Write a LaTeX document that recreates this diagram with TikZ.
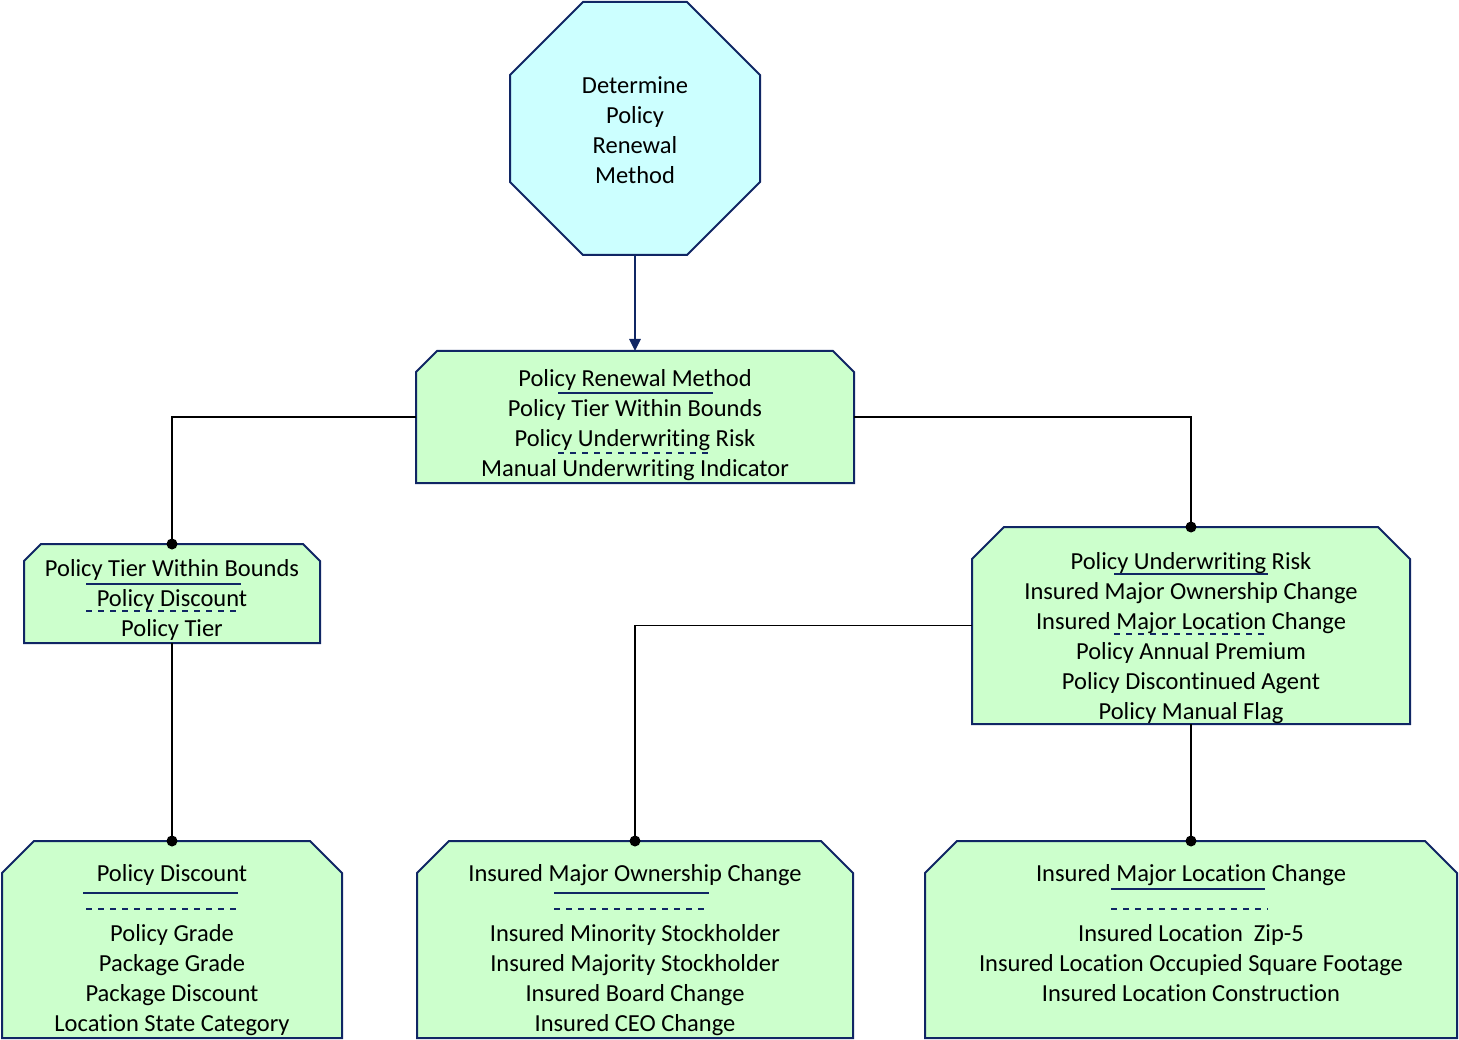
\documentclass[tikz,border=0pt]{standalone}
\usepackage{fontspec}
\setmainfont{Carlito}[Ligatures=NoCommon]
\usetikzlibrary{arrows.meta,calc}
\definecolor{navy}{RGB}{16,38,100}
\definecolor{boxgreen}{RGB}{204,255,204}
\definecolor{octcyan}{RGB}{204,255,255}
\newcommand\chbox[2]{%
  \path[shapeline, fill=boxgreen] ($(#1.north west)+(#2,0)$) -- ($(#1.north east)+(-#2,0)$) -- ($(#1.north east)+(0,#2)$) -- (#1.south east) -- (#1.south west) -- ($(#1.north west)+(0,#2)$) -- cycle;}
\begin{document}
\begin{tikzpicture}[x=1pt,y=-1pt,
  frame/.style={inner sep=0pt, outer sep=0pt},
  shapeline/.style={draw=navy, line width=2pt, line join=miter},
  txt/.style={align=center, font=\fontsize{24.5}{30}\selectfont, inner sep=0pt, text=black},
  link/.style={black, line width=1.5pt},
  dot/.style={fill=black},
  uline/.style={navy, line width=1.6pt},
  dline/.style={navy, line width=1.6pt, dash pattern=on 6pt off 6pt}]
\useasboundingbox (0,0) rectangle (1459,1040);
% frames
\node[frame, minimum width=250pt, minimum height=253pt] (oct) at (635,128.5) {};
\node[frame, minimum width=438pt, minimum height=132pt] (b1) at (635,417) {};
\node[frame, minimum width=296pt, minimum height=99pt] (b2) at (172,593.5) {};
\node[frame, minimum width=340pt, minimum height=197pt] (b3) at (172,939.5) {};
\node[frame, minimum width=436pt, minimum height=197pt] (b4) at (635,939.5) {};
\node[frame, minimum width=532pt, minimum height=197pt] (b5) at (1191,939.5) {};
\node[frame, minimum width=438pt, minimum height=197pt] (b6) at (1191,625.5) {};
% shapes
\path[shapeline, fill=octcyan] ($(oct.north west)+(73,0)$) -- ($(oct.north east)+(-73,0)$) -- ($(oct.north east)+(0,73)$) -- ($(oct.south east)+(0,-73)$) -- ($(oct.south east)+(-73,0)$) -- ($(oct.south west)+(73,0)$) -- ($(oct.south west)+(0,-73)$) -- ($(oct.north west)+(0,73)$) -- cycle;
\chbox{b1}{21}
\chbox{b2}{17}
\chbox{b3}{32}
\chbox{b4}{32}
\chbox{b5}{32}
\chbox{b6}{32}
% connectors
\draw[navy, line width=2.6pt, -{Triangle[length=12pt,width=11pt]}] (oct.south) -- (b1.north);
\draw[link] (b1.west) -| (b2.north);
\draw[link] (b1.east) -| (b6.north);
\draw[link] (b2.south) -- (b3.north);
\draw[link] (b6.west) -| (b4.north);
\draw[link] (b6.south) -- (b5.north);
\fill[dot] (b2.north) circle[radius=5.5];
\fill[dot] (b6.north) circle[radius=5.5];
\fill[dot] (b3.north) circle[radius=5.5];
\fill[dot] (b4.north) circle[radius=5.5];
\fill[dot] (b5.north) circle[radius=5.5];
% underlines
\draw[uline] (558,393) -- (713,393);
\draw[dline] (558,453) -- (713,453);
\draw[uline] (86,584) -- (241,584);
\draw[dline] (86,611) -- (241,611);
\draw[uline] (83,893) -- (238,893);
\draw[dline] (86,909) -- (240,909);
\draw[uline] (554,893) -- (709,893);
\draw[dline] (554,909) -- (709,909);
\draw[uline] (1111,889) -- (1265,889);
\draw[dline] (1111,909) -- (1268,909);
\draw[uline] (1114,574) -- (1268,574);
\draw[dline] (1114,634) -- (1268,634);
% texts
\node[txt] (toct) at (635,130) {Determine\\Policy\\Renewal\\Method};
\node[txt] (tb1) at (635,425) {Policy Renewal Method\\Policy Tier Within Bounds\\Policy Underwriting Risk\\Manual Underwriting Indicator};
\node[txt] (tb2) at (172,600) {Policy Tier Within Bounds\\Policy Discount\\Policy Tier};
\node[txt] (tb3) at (172,950) {Policy Discount\\[30pt]Policy Grade\\Package Grade\\Package Discount\\Location State Category};
\node[txt] (tb4) at (635,950) {Insured Major Ownership Change\\[30pt]Insured Minority Stockholder\\Insured Majority Stockholder\\Insured Board Change\\Insured CEO Change};
\node[txt] (tb5) at (1191,933) {Insured Major Location Change\\[30pt]Insured Location\ \ Zip-5\\Insured Location Occupied Square Footage\\Insured Location Construction};
\node[txt] (tb6) at (1191,638) {Policy Underwriting Risk\\Insured Major Ownership Change\\Insured Major Location Change\\Policy Annual Premium\\Policy Discontinued Agent\\Policy Manual Flag};
\end{tikzpicture}
\end{document}
